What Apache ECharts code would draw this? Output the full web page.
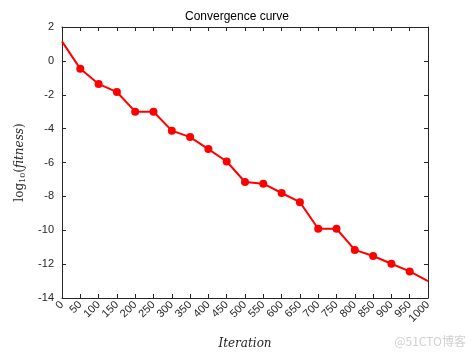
<!DOCTYPE html>
<html>
<head>
<meta charset="utf-8">
<script src="https://cdn.jsdelivr.net/npm/echarts@6/dist/echarts.min.js"></script>
<style>html,body{margin:0;padding:0;background:#fff}#c{width:474px;height:355px}</style>
</head>
<body>
<div id="c"></div>
<script>
var iterations = [0,50,100,150,200,250,300,350,400,450,500,550,600,650,700,750,800,850,900,950,1000];
var logFitness = [1.15,-0.47,-1.36,-1.84,-3.0,-3.0,-4.12,-4.5,-5.21,-5.94,-7.15,-7.25,-7.8,-8.34,-9.91,-9.91,-11.16,-11.52,-11.98,-12.43,-13.0];
var markerShown = [false,true,true,true,true,true,true,true,true,true,true,true,true,true,true,true,true,true,true,true,false];

var chart = echarts.init(document.getElementById('c'));
var data = iterations.map(function(x,i){
  return {value:[x, logFitness[i]], symbol: markerShown[i] ? 'circle' : 'none'};
});
var txt = '#262626';
var axisLine = {show:true, onZero:false, lineStyle:{color:'#262626', width:1}};
var tick = {show:true, inside:true, length:4, lineStyle:{color:'#262626'}};
chart.setOption({
  animation:false,
  title:{text:'Convergence curve', left:'center', top:6, textStyle:{fontFamily:'Liberation Sans, Arial', fontWeight:'normal', fontSize:12, color:'#000'}},
  grid:{left:62, right:46, top:27, bottom:50},
  xAxis:[{
    type:'value', min:0, max:1000, interval:50,
    axisLine:axisLine, axisTick:tick, splitLine:{show:false},
    axisLabel:{rotate:45, fontSize:11, color:txt, fontFamily:'Liberation Sans, Arial', margin:5, formatter:function(v){return String(v);}},
    name:'Iteration', nameLocation:'middle', nameGap:40,
    nameTextStyle:{fontFamily:'DejaVu Serif, Liberation Serif', fontStyle:'italic', fontSize:12, color:txt}
  },{
    type:'value', min:0, max:1000, interval:50, position:'top',
    axisLine:axisLine, axisTick:tick, axisLabel:{show:false}, splitLine:{show:false}
  }],
  yAxis:[{
    type:'value', min:-14, max:2, interval:2,
    axisLine:axisLine, axisTick:tick, splitLine:{show:false},
    axisLabel:{fontSize:11, color:txt, fontFamily:'Liberation Sans, Arial', margin:8},
    name:'{a|log}{s|10}{a|(}{b|fitness}{a|)}', nameLocation:'middle', nameGap:32,
    nameTextStyle:{rich:{
      a:{fontFamily:'DejaVu Serif, Liberation Serif', fontSize:12, color:txt},
      s:{fontFamily:'DejaVu Serif, Liberation Serif', fontSize:8, color:txt, verticalAlign:'bottom', padding:[6,0,0,0]},
      b:{fontFamily:'DejaVu Serif, Liberation Serif', fontStyle:'italic', fontSize:12, color:txt}
    }}
  },{
    type:'value', min:-14, max:2, interval:2, position:'right',
    axisLine:axisLine, axisTick:tick, axisLabel:{show:false}, splitLine:{show:false}
  }],
  graphic:[{type:'text', right:8, bottom:8, style:{text:'@51CTO博客', fill:'#d0d0d0', fontSize:12, fontFamily:'Noto Sans CJK SC, Liberation Sans'}}],
  series:[{
    type:'line', data:data, symbolSize:8,
    lineStyle:{color:'#f00', width:2}, itemStyle:{color:'#f00'}
  }]
});
</script>
</body>
</html>
